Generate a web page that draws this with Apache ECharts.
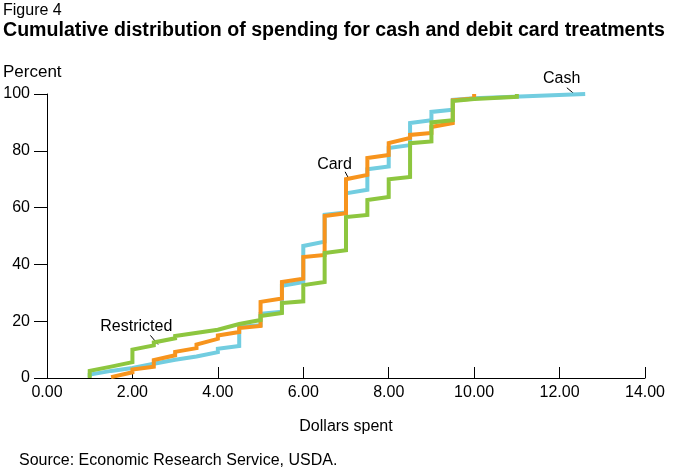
<!DOCTYPE html>
<html>
<head>
<meta charset="utf-8">
<script src="https://cdn.jsdelivr.net/npm/echarts@6/dist/echarts.min.js"></script>
<style>
  html, body { margin: 0; padding: 0; background: #fff; }
  #main { width: 676px; height: 469px; }
</style>
</head>
<body>
<div id="main"></div>
<script>
// dollars spent / cumulative percent, vertical jumps are repeated x values
const cashX = [1.0, 1.0, 1.5, 1.5, 2.0, 2.0, 2.5, 2.5, 3.0, 3.0, 3.5, 3.5, 4.0, 4.0, 4.5, 4.5, 5.0, 5.0, 5.5, 5.5, 6.0, 6.0, 6.5, 6.5, 7.0, 7.0, 7.5, 7.5, 8.0, 8.0, 8.5, 8.5, 9.0, 9.0, 9.5, 9.5, 10.0, 12.6]
const cashY = [0.3, 1.2, 2.5, 2.8, 3.5, 4.2, 5.0, 5.4, 6.4, 6.7, 7.6, 7.9, 9.1, 10.3, 11.3, 18.0, 18.6, 22.6, 23.3, 32.5, 33.8, 46.5, 48.0, 57.5, 58.3, 65.0, 66.3, 73.5, 74.5, 81.0, 82.0, 89.8, 90.8, 93.7, 94.5, 97.9, 98.5, 100]

const cardX = [1.5, 1.5, 2.0, 2.0, 2.5, 2.5, 3.0, 3.0, 3.5, 3.5, 4.0, 4.0, 4.5, 4.5, 5.0, 5.0, 5.5, 5.5, 6.0, 6.0, 6.5, 6.5, 7.0, 7.0, 7.5, 7.5, 8.0, 8.0, 8.5, 8.5, 9.0, 9.0, 9.5, 9.5, 10.0, 10.0]
const cardY = [0.3, 1.0, 2.0, 3.0, 4.0, 6.3, 8.0, 9.2, 10.5, 11.8, 13.8, 15.0, 16.2, 17.6, 18.3, 26.8, 28.0, 33.8, 35.0, 42.6, 43.3, 57.0, 58.0, 70.0, 71.5, 77.5, 78.5, 82.7, 84.5, 85.6, 86.3, 88.4, 89.8, 97.8, 98.4, 100]

const restrictedX = [1.0, 1.0, 1.5, 1.5, 2.0, 2.0, 2.5, 2.5, 3.0, 3.0, 4.0, 4.0, 4.5, 4.5, 5.0, 5.0, 5.5, 5.5, 6.0, 6.0, 6.5, 6.5, 7.0, 7.0, 7.5, 7.5, 8.0, 8.0, 8.5, 8.5, 9.0, 9.0, 9.5, 9.5, 10.0, 11.0, 11.0]
const restrictedY = [0, 2.5, 4.0, 4.6, 5.6, 10.0, 11.5, 12.5, 14.0, 14.8, 17.0, 17.6, 19.0, 19.5, 20.4, 21.8, 22.9, 26.4, 27.0, 32.7, 33.8, 44.0, 45.0, 56.7, 57.4, 62.7, 63.7, 70.0, 70.8, 82.7, 83.3, 90.0, 90.8, 97.5, 98.2, 99.0, 100]

const xTicks = [0, 2, 4, 6, 8, 10, 12, 14]
const yTicks = [0, 20, 40, 60, 80, 100]

// series labels: text, text centre, leader start, leader end (data coords)
const labelNames = ['Restricted', 'Card', 'Cash']
const labelAt = [[2.09, 18.0], [6.73, 75.0], [12.05, 105.6]]
const leaderFrom = [[2.42, 15.0], [6.98, 72.6], [12.17, 102.2]]
const leaderTo = [[2.6, 11.8], [7.05, 70.6], [12.33, 100.2]]

const colors = { cash: '#72cde0', card: '#f7941d', restricted: '#8dc63f' }
const font = 'Liberation Sans, Arial, Helvetica, sans-serif'

function pairs(xs, ys) {
    return xs.map((x, i) => [x, ys[i]])
}

let chart = echarts.init(document.getElementById('main'), null, { renderer: 'canvas' })

function lineSeries(name, xs, ys, color) {
    return {
        name: name,
        type: 'line',
        data: pairs(xs, ys),
        symbol: 'none',
        clip: false,
        lineStyle: { color: color, width: 4, cap: 'butt', join: 'miter' },
        animation: false
    }
}

let option = {
    backgroundColor: '#ffffff',
    animation: false,
    grid: { left: 47, right: 31, top: 94, bottom: 91 },
    xAxis: {
        type: 'value',
        min: 0,
        max: 14,
        interval: 2,
        name: 'Dollars spent',
        nameLocation: 'middle',
        nameGap: 41,
        nameTextStyle: { color: '#000', fontSize: 16, fontFamily: font },
        axisLine: { show: true, lineStyle: { color: '#000', width: 1 } },
        axisTick: { show: true, inside: true, length: 11, lineStyle: { color: '#000' } },
        axisLabel: {
            color: '#000', fontSize: 16, fontFamily: font, margin: 7,
            formatter: v => xTicks.indexOf(v) >= 0 ? v.toFixed(2) : ''
        },
        splitLine: { show: false }
    },
    yAxis: {
        type: 'value',
        min: 0,
        max: 100,
        interval: 20,
        axisLine: { show: true, lineStyle: { color: '#000', width: 1 } },
        axisTick: { show: true, length: 13, lineStyle: { color: '#000' } },
        axisLabel: {
            color: '#000', fontSize: 16, fontFamily: font, margin: 17,
            formatter: v => yTicks.indexOf(v) >= 0 ? String(v) : ''
        },
        splitLine: { show: false }
    },
    series: [
        lineSeries('Cash', cashX, cashY, colors.cash),
        lineSeries('Card', cardX, cardY, colors.card),
        lineSeries('Restricted', restrictedX, restrictedY, colors.restricted)
    ]
}
chart.setOption(option)

// titles and series labels
let graphic = [
    { type: 'text', x: 3, y: 11, style: { text: 'Figure 4', fill: '#000', font: '16px ' + font, verticalAlign: 'middle' } },
    { type: 'text', x: 3, y: 31, style: { text: 'Cumulative distribution of spending for cash and debit card treatments', fill: '#000', font: 'bold 19.6px ' + font, verticalAlign: 'middle' } },
    { type: 'text', x: 3, y: 72, style: { text: 'Percent', fill: '#000', font: '17px ' + font, verticalAlign: 'middle' } },
    { type: 'text', x: 19, y: 461, style: { text: 'Source: Economic Research Service, USDA.', fill: '#000', font: '16px ' + font, verticalAlign: 'middle' } }
]
labelNames.forEach((name, i) => {
    let c = chart.convertToPixel({ gridIndex: 0 }, labelAt[i])
    let p1 = chart.convertToPixel({ gridIndex: 0 }, leaderFrom[i])
    let p2 = chart.convertToPixel({ gridIndex: 0 }, leaderTo[i])
    graphic.push({
        type: 'text', x: c[0], y: c[1],
        style: { text: name, fill: '#000', font: '16px ' + font, align: 'center', verticalAlign: 'middle' }
    })
    graphic.push({
        type: 'line',
        shape: { x1: p1[0], y1: p1[1], x2: p2[0], y2: p2[1] },
        style: { stroke: '#000', lineWidth: 1 }
    })
})
chart.setOption({ graphic: graphic })
</script>
</body>
</html>
